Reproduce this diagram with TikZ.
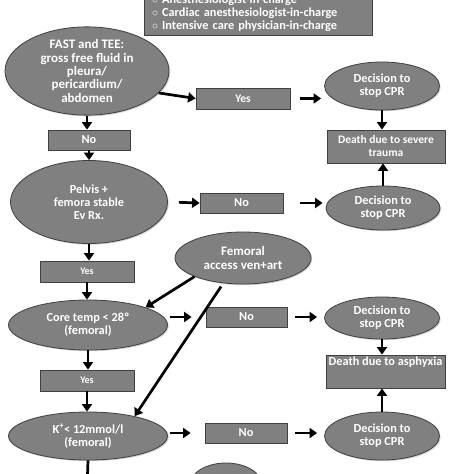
\documentclass[tikz,border=0pt]{standalone}
\usepackage{fontspec}
\setmainfont{Carlito}
\usetikzlibrary{shapes.geometric, arrows.meta, shadows}

\newcommand{\bigtxt}{\fontsize{13}{13.3}\selectfont\bfseries}
\newcommand{\midtxt}{\fontsize{12.3}{13}\selectfont\bfseries}
\newcommand{\boxtxt}{\fontsize{11.5}{13}\selectfont\bfseries}
\newcommand{\smalltxt}{\fontsize{10}{11}\selectfont\bfseries}

\tikzset{
  flow/.style={draw=black!75, line width=0.8pt, fill=black!50, text=white,
    align=center, inner sep=0pt, font=\midtxt,
    drop shadow={opacity=0.35, shadow xshift=1.2pt, shadow yshift=-1.2pt}},
  oval/.style={flow, ellipse},
  tag/.style={flow, rectangle},
  go/.style={line width=2.7pt, -{Triangle[length=7.5pt,width=10pt]}},
}

\begin{document}
\begin{tikzpicture}[x=1pt, y=-1pt]
\clip (0,0) rectangle (474,474);
\fill[white] (0,0) rectangle (474,474);
\node[tag, minimum width=228pt, minimum height=44pt, text width=212pt, align=left, font=\midtxt] (staff) at (258,13)
  {$\circ$\ Anesthesiologist-in-charge\\ $\circ$\ Cardiac anesthesiologist-in-charge\\ $\circ$\ Intensive care physician-in-charge};
\node[oval, minimum width=164pt, minimum height=86pt, font=\bigtxt] (fast) at (87,71) {FAST and TEE:\\gross free fluid in\\pleura/\\pericardium/\\abdomen};
\node[tag, minimum width=94pt, minimum height=21pt, font=\boxtxt] (yes1) at (243,98.5) {Yes};
\node[oval, minimum width=115pt, minimum height=48pt] (dec1) at (382,86) {Decision to\\stop CPR};
\node[tag, minimum width=118pt, minimum height=33pt, font=\boxtxt] (death1) at (386,146.5) {Death due to severe\\trauma};
\node[tag, minimum width=82pt, minimum height=20pt] (no1) at (89,140) {No};
\node[oval, minimum width=157pt, minimum height=83pt] (pelvis) at (89,202) {Pelvis +\\femora stable\\Ev Rx.};
\node[tag, minimum width=83pt, minimum height=20pt] (no2) at (241.5,203) {No};
\node[oval, minimum width=114pt, minimum height=44pt] (dec2) at (383,208) {Decision to\\stop CPR};
\node[tag, minimum width=94pt, minimum height=21pt, font=\smalltxt] (yes2) at (87,271.5) {Yes};
\node[oval, minimum width=136pt, minimum height=52pt, font=\bigtxt] (femoral) at (243,258) {Femoral\\access ven+art};
\node[oval, minimum width=159pt, minimum height=50pt] (core) at (88,325) {Core temp < 28º\\(femoral)};
\node[tag, minimum width=81pt, minimum height=20pt] (no3) at (246.5,317) {No};
\node[oval, minimum width=115pt, minimum height=42pt] (dec3) at (382,318) {Decision to\\stop CPR};
\node[tag, minimum width=119pt, minimum height=33pt, font=\midtxt] (death2) at (385.5,371.5) {Death due to asphyxia\\[8pt]};
\node[tag, minimum width=94pt, minimum height=21pt, font=\smalltxt] (yes3) at (87,380.5) {Yes};
\node[oval, minimum width=159pt, minimum height=48pt] (kplus) at (88,436) {K\textsuperscript{+}< 12mmol/l\\(femoral)};
\node[tag, minimum width=82pt, minimum height=20pt] (no4) at (246,433) {No};
\node[oval, minimum width=115pt, minimum height=48pt] (dec4) at (382,436) {Decision to\\stop CPR};
\node[oval, minimum width=72pt, minimum height=44pt] (next) at (226,485) {};
\coordinate (kout) at (87,490);
\draw[go] (fast.-17) -- (yes1.west);
\draw[go, shorten <=10pt, shorten >=3pt] (yes1.east) -- (yes1.east -| dec1.west);
\draw[go] (fast.south) -- (fast.south |- no1.north);
\draw[go] (no1.south) -- (no1.south |- pelvis.north);
\draw[go, shorten <=11pt] (pelvis.east) -- (no2.west);
\draw[go, shorten <=17pt, shorten >=3pt] (no2.east) -- (no2.east -| dec2.west);
\draw[go] (dec1.south) -- (dec1.south |- death1.north);
\draw[go] (dec2.north) -- (dec2.north |- death1.south);
\draw[go] (pelvis.south) -- (pelvis.south |- yes2.north);
\draw[go] (yes2.south) -- (yes2.south |- core.north);
\draw[go] (femoral.201) -- (core.17);
\draw[go, shorten <=4pt] (femoral.232) -- (kplus.23);
\draw[go, shorten <=2pt, shorten >=14pt] (no3.west -| core.east) -- (no3.west);
\draw[go, shorten <=8pt, shorten >=7pt] (no3.east) -- (no3.east -| dec3.west);
\draw[go] (dec3.south) -- (dec3.south |- death2.north);
\draw[go] (core.south) -- (core.south |- yes3.north);
\draw[go] (yes3.south) -- (yes3.south |- kplus.north);
\draw[go] (dec4.north) -- (dec4.north |- death2.south);
\draw[go, shorten <=2pt, shorten >=14pt] (no4.west -| kplus.east) -- (no4.west);
\draw[go, shorten <=8pt, shorten >=7pt] (no4.east) -- (no4.east -| dec4.west);
\draw[go] (kplus.south) -- (kout);
\end{tikzpicture}
\end{document}
